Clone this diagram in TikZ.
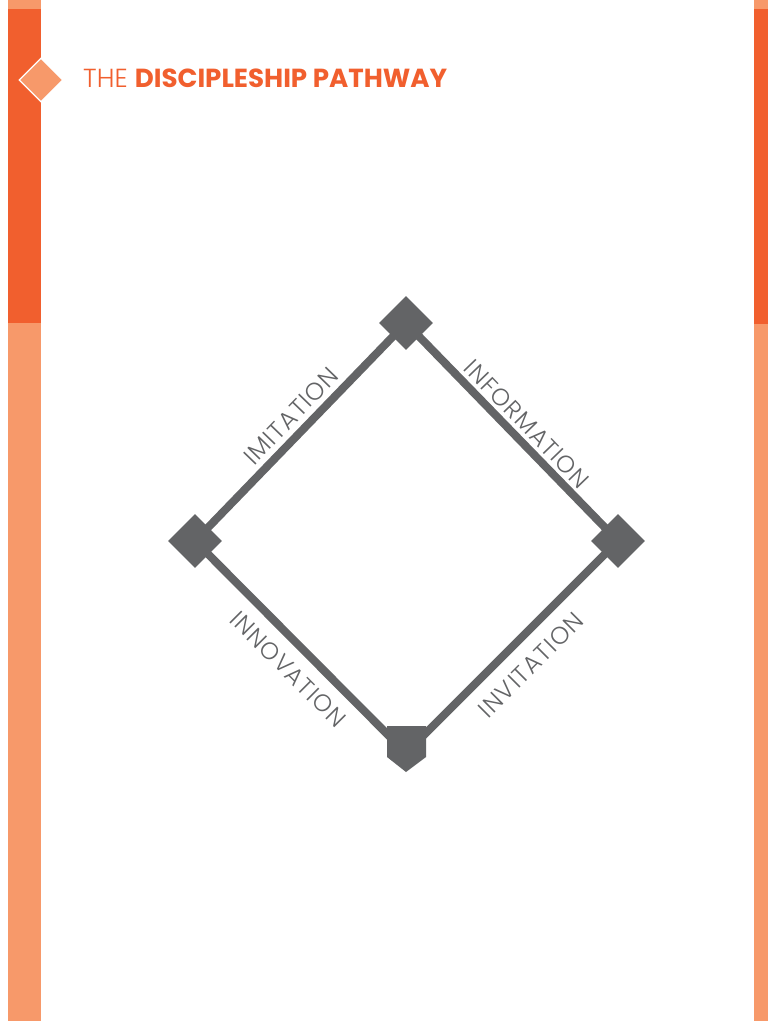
\documentclass[tikz,border=0pt]{standalone}
\usepackage{fontspec}
\usetikzlibrary{shapes.geometric}
\newfontfamily\lblfont{Poppins Light}[LetterSpace=5]
\newfontfamily\ttlfont{Poppins}
\newfontfamily\ttllight{Poppins Light}
\definecolor{darkor}{HTML}{F15F2E}
\definecolor{lightor}{HTML}{F7996A}
\definecolor{pgray}{HTML}{636466}
\tikzset{
  bar/.style={fill=#1, draw=none},
  link/.style={draw=pgray, line width=8pt},
  cornerbox/.style={diamond, aspect=1, fill=pgray, draw=none, inner sep=0pt, minimum width=54pt, minimum height=54pt},
  lbl/.style={text=pgray, inner sep=0pt, font=\lblfont},
}
\begin{document}
\begin{tikzpicture}[x=1pt,y=-1pt]
\useasboundingbox (0,0) rectangle (768,1024);
\fill[white] (0,0) rectangle (768,1024);
% side bars
\path[bar=lightor] (8,0) rectangle (41,9);
\path[bar=darkor] (8,9) rectangle (41,323);
\path[bar=lightor] (8,323) rectangle (41,1021);
\path[bar=lightor] (754,0) rectangle (768,9);
\path[bar=darkor] (754,9) rectangle (768,324);
\path[bar=lightor] (754,324) rectangle (768,1021);
% title
\node[diamond, aspect=1, fill=lightor, draw=white, line width=1.2pt, inner sep=0pt, minimum width=44pt, minimum height=44pt] (tmark) at (41,80) {};
\node[anchor=base west, inner sep=0pt, text=darkor] (title) at (83,88)
  {\resizebox{364pt}{!}{\ttllight THE \ttlfont\bfseries DISCIPLESHIP PATHWAY}};
% coordinates
\coordinate (top) at (406,323);
\coordinate (left) at (195,541);
\coordinate (right) at (618,541);
\coordinate (bot) at (406,753);
\draw[link] (top) -- (left);
\draw[link] (top) -- (right);
\draw[link] (left) -- (bot);
\draw[link] (right) -- (bot);
\node[cornerbox] (ntop) at (top) {};
\node[cornerbox] (nleft) at (left) {};
\node[cornerbox] (nright) at (right) {};
\fill[pgray] (387,726) -- (426,726) -- (426,757) -- (406,772) -- (387,757) -- cycle;
\node[inner sep=0pt] (nbot) at (406,748) {};
% labels
\node[lbl, rotate=46] (limit) at (291,416) {\resizebox{124pt}{!}{IMITATION}};
\node[lbl, rotate=-46] (linfo) at (527,424) {\resizebox{167pt}{!}{INFORMATION}};
\node[lbl, rotate=-45] (linno) at (288,669) {\resizebox{152pt}{!}{INNOVATION}};
\node[lbl, rotate=45] (linvi) at (531,665) {\resizebox{137pt}{!}{INVITATION}};
\end{tikzpicture}
\end{document}
